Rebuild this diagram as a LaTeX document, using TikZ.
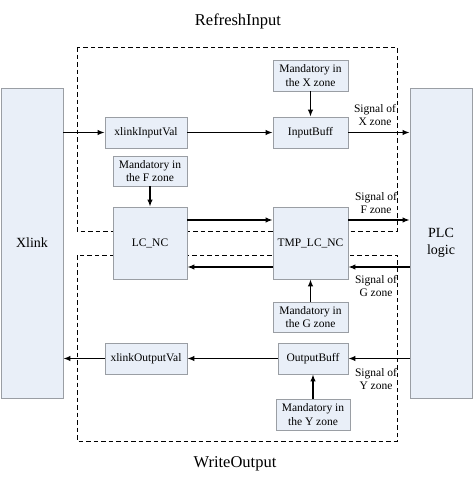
\documentclass[tikz,border=0pt]{standalone}
\usepackage{fontspec}
\setmainfont{Liberation Serif}
\usetikzlibrary{arrows.meta}

\definecolor{boxfill}{HTML}{E9EFF8}
\definecolor{boxline}{HTML}{9A9EA4}

\tikzset{
  blk/.style={draw=boxline, fill=boxfill, line width=0.9pt, inner sep=1pt,
    align=center, font=\fontsize{11.5}{13.5}\selectfont},
  bigblk/.style={blk, font=\fontsize{14}{16.5}\selectfont},
  sig/.style={line width=1.2pt, -{Latex[length=7pt,width=5.5pt]}},
  lbl/.style={align=center, inner sep=0pt, font=\fontsize{11.5}{13.8}\selectfont},
  zone/.style={dashed, dash pattern=on 4.5pt off 3pt, line width=0.8pt}
}

\begin{document}
\begin{tikzpicture}[x=1pt, y=-1pt]
\useasboundingbox (0,0) rectangle (474,488);

% draw the two zones
\draw[zone] (77,47) rectangle (397,231);
\draw[zone] (77,255) rectangle (397,441);
\node[font=\fontsize{16.5}{19}\selectfont] (ri) at (238,21) {RefreshInput};
\node[font=\fontsize{16.5}{19}\selectfont] (wo) at (235,464) {WriteOutput};

% draw some blocks
\node[bigblk, minimum width=62pt, minimum height=310pt] (X) at (32,243) {Xlink};
\node[bigblk, minimum width=62pt, minimum height=310pt] (P) at (441,243) {PLC\\logic};

\node[blk, minimum width=82pt, minimum height=31pt] (iv) at (146,132.5) {xlinkInputVal};
\node[blk, minimum width=75pt, minimum height=31pt] (ib) at (310.5,132.5) {InputBuff};
\node[blk, minimum width=75pt, minimum height=31pt] (mx) at (310.5,75.5) {Mandatory in\\the X zone};
\node[blk, minimum width=74pt, minimum height=30pt] (mf) at (150,171) {Mandatory in\\the F zone};

\node[blk, minimum width=74pt, minimum height=72pt] (lc) at (150,243) {LC\_NC};
\node[blk, minimum width=75pt, minimum height=72pt] (tl) at (310.5,243) {TMP\_LC\_NC};
\node[blk, minimum width=75pt, minimum height=30pt] (mg) at (310.5,317) {Mandatory in\\the G zone};

\node[blk, minimum width=82pt, minimum height=31pt] (ov) at (146,358.5) {xlinkOutputVal};
\node[blk, minimum width=70pt, minimum height=31pt] (ob) at (313,358.5) {OutputBuff};
\node[blk, minimum width=74pt, minimum height=31pt] (my) at (313,414.5) {Mandatory in\\the Y zone};

% connection points on the two tall blocks
\coordinate (lcu) at ([yshift=23pt]lc.east);
\coordinate (lcd) at ([yshift=-24pt]lc.east);
\coordinate (tlwu) at ([yshift=23pt]tl.west);
\coordinate (tlwd) at ([yshift=-24pt]tl.west);
\coordinate (tleu) at ([yshift=23pt]tl.east);
\coordinate (tled) at ([yshift=-24pt]tl.east);

% draw the arrows
\draw[sig] (X.east |- iv) -- (iv);
\draw[sig] (iv) -- (ib);
\draw[sig] (mx) -- (ib);
\draw[sig] (ib) -- (P.west |- ib);
\draw[sig] (mf) -- (lc);
\draw[sig] (lcu) -- (tlwu);
\draw[sig] (tleu) -- (P.west |- tleu);
\draw[sig] (P.west |- tled) -- (tled);
\draw[sig] (tlwd) -- (lcd);
\draw[sig] (mg) -- (tl);
\draw[sig] (P.west |- ob) -- (ob);
\draw[sig] (ob) -- (ov);
\draw[sig] (ov) -- (X.east |- ov);
\draw[sig] (my) -- (ob);

% signal labels
\node[lbl] (sx) at (375,115) {Signal of\\X zone};
\node[lbl] (sf) at (376,203) {Signal of\\F zone};
\node[lbl] (sg) at (376,286) {Signal of\\G zone};
\node[lbl] (sy) at (376,379) {Signal of\\Y zone};

\end{tikzpicture}
\end{document}
